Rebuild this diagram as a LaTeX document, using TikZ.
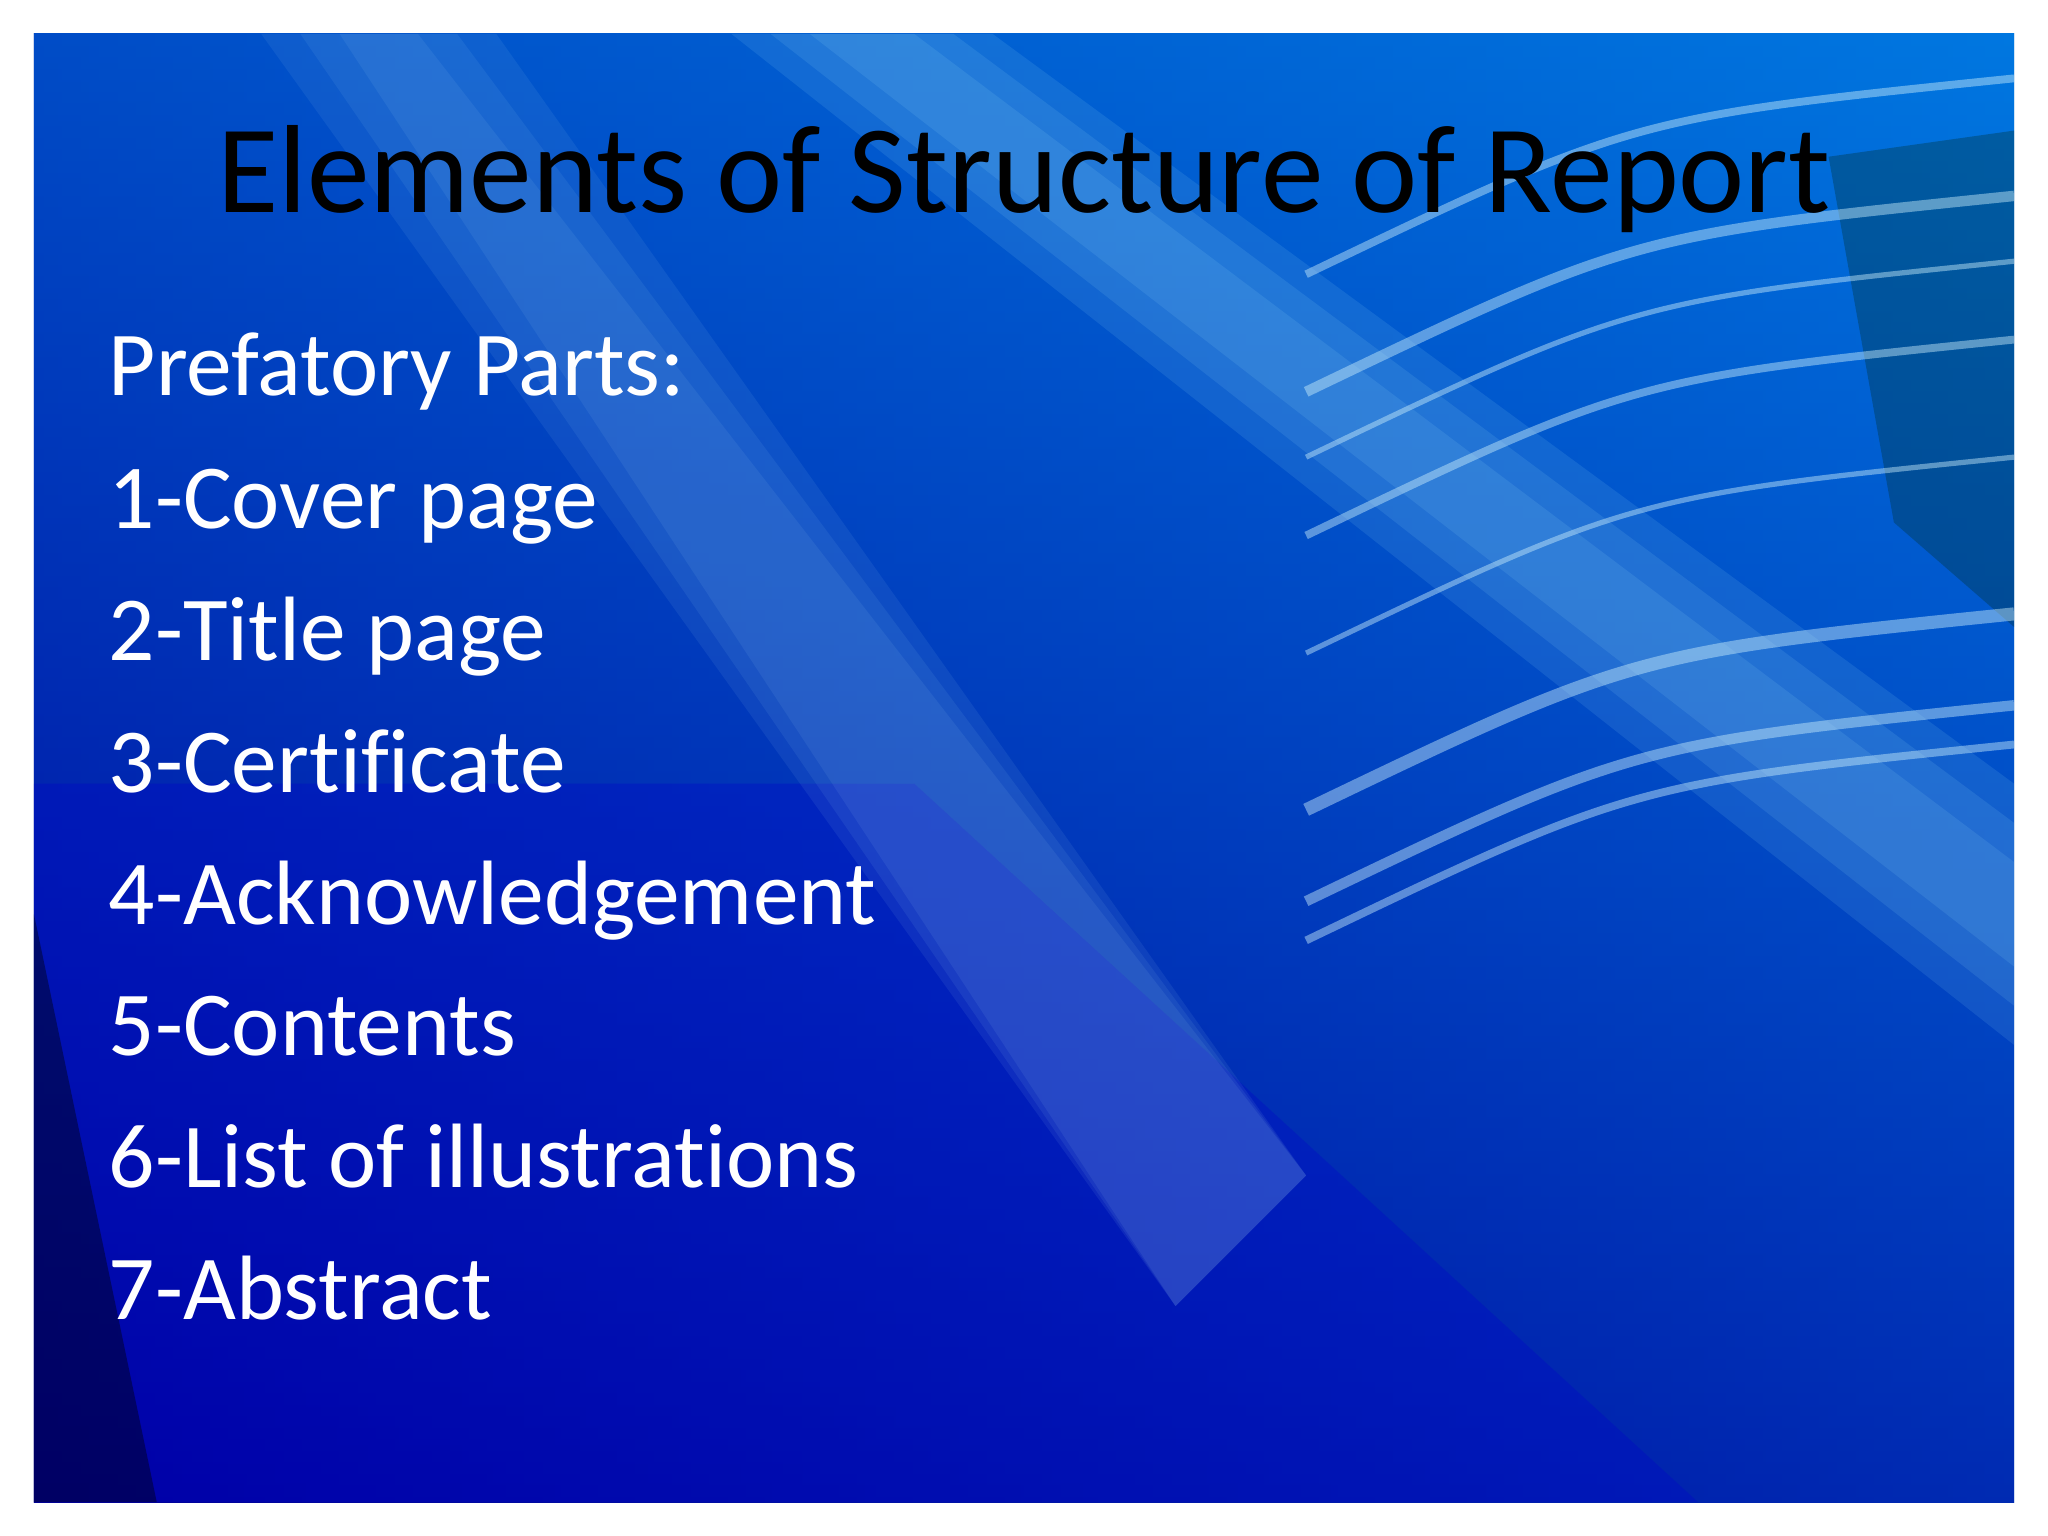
\documentclass[tikz,border=0pt]{standalone}
\usepackage{fontspec}
\setmainfont{Carlito}[Ligatures=NoCommon]
\begin{document}
\begin{tikzpicture}[x=0.5pt,y=-0.5pt,
  item/.style={anchor=base west,inner sep=0pt,text=white,font=\fontsize{35}{40}\selectfont}]
\useasboundingbox (0,0) rectangle (1568,1176);
\fill[white] (0,0) rectangle (1568,1176);
\begin{scope}
\clip (26,26) rectangle (1542,1150);
\shade[left color=blue!45!black, right color=cyan!60!blue!70!black] (26,26) rectangle (1542,1150);
\shade[top color=cyan!50!blue, bottom color=blue!70!black, opacity=0.6] (26,26) rectangle (1542,1150);
\fill[blue!80!black, opacity=0.3] (26,600) -- (700,600) -- (1300,1150) -- (26,1150) -- cycle;
\fill[black, opacity=0.4] (26,700) -- (120,1150) -- (26,1150) -- cycle;
\foreach \o in {0,30,60} \fill[cyan!40!white, opacity=0.12] (560+\o,26) -- (760-\o,26) -- (1542,600+\o) -- (1542,800-\o) -- cycle;
\foreach \o in {0,30,60} \fill[cyan!30!white, opacity=0.08] (200+\o,26) -- (380-\o,26) -- (1000,900) -- (900,1000) -- cycle;
\fill[black!60!teal, opacity=0.35] (1400,120) -- (1542,100) -- (1542,480) -- (1450,400) -- cycle;
\foreach \y/\w in {60/3,150/4,200/2,260/3,350/2,470/5,540/4,570/3}
  \draw[cyan!20!white, opacity=0.45, line width=\w] (1000,\y+150) .. controls (1250,\y+30) .. (1542,\y);
\end{scope}
\node[anchor=base,inner sep=0pt,text=black,font=\fontsize{48}{54}\selectfont] (title) at (784,163) {Elements of Structure of Report};
\node[item] (p) at (83,303) {Prefatory Parts:};
\node[item] (i1) at (83,405) {1-Cover page};
\node[item] (i2) at (83,506) {2-Title page};
\node[item] (i3) at (83,607) {3-Certificate};
\node[item] (i4) at (83,708) {4-Acknowledgement};
\node[item] (i5) at (83,808) {5-Contents};
\node[item] (i6) at (83,909) {6-List of illustrations};
\node[item] (i7) at (83,1010) {7-Abstract};
\end{tikzpicture}
\end{document}
